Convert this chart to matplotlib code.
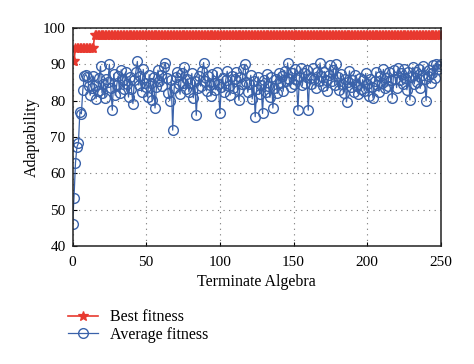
import numpy as np
import matplotlib
matplotlib.use("Agg")
import matplotlib.pyplot as plt

generations = np.arange(0, 251)

best_levels = [91.0, 94.5, 98.0]
best_counts = [2, 13, 236]
best_fitness = np.repeat(best_levels, best_counts)

average_fitness = [
    46.2, 53.2, 62.9, 67.3, 68.3, 77.0, 76.4, 83.0, 86.7, 87.2,
    86.5, 84.0, 81.5, 83.5, 86.8, 84.2, 80.6, 82.8, 86.2, 89.5,
    82.1, 84.5, 80.8, 86.0, 85.2, 90.0, 83.4, 77.4, 87.3, 81.5,
    84.3, 86.8, 82.0, 88.5, 85.6, 83.1, 87.9, 84.7, 81.0, 86.4,
    83.2, 79.2, 85.8, 88.0, 90.8, 84.3, 86.9, 82.5, 88.6, 85.0,
    83.7, 81.0, 87.2, 84.8, 80.2, 86.5, 78.0, 83.8, 88.4, 85.5,
    87.0, 84.1, 89.2, 90.5, 86.3, 82.0, 80.0, 85.8, 71.9, 83.5,
    86.4, 88.0, 84.5, 81.8, 87.6, 85.0, 89.3, 83.2, 86.0, 82.4,
    84.8, 87.5, 80.8, 85.3, 76.0, 83.6, 86.9, 84.0, 88.2, 90.5,
    85.4, 82.7, 86.8, 84.2, 81.3, 87.4, 85.0, 83.0, 88.0, 84.6,
    76.5, 83.9, 86.2, 82.5, 85.7, 88.1, 84.0, 81.6, 86.8, 83.4,
    85.9, 87.8, 82.9, 80.1, 86.4, 84.7, 88.6, 90.0, 85.2, 82.3,
    84.6, 87.0, 80.5, 85.5, 75.6, 83.2, 86.6, 81.8, 84.4, 76.5,
    85.7, 82.5, 87.3, 84.0, 80.9, 86.5, 78.0, 83.6, 85.9, 82.0,
    87.5, 84.8, 86.9, 82.6, 88.3, 85.4, 90.4, 86.0, 83.8, 87.7,
    84.5, 88.8, 85.9, 77.4, 86.4, 89.0, 84.2, 87.6, 85.0, 88.4,
    77.4, 86.2, 84.6, 88.9, 86.0, 83.5, 87.8, 85.3, 90.4, 86.8,
    84.0, 88.0, 85.7, 82.8, 87.2, 89.8, 85.5, 88.5, 84.3, 90.0,
    86.4, 83.0, 87.4, 84.6, 82.0, 86.0, 79.7, 85.2, 88.2, 83.8,
    85.6, 82.4, 87.0, 84.0, 81.8, 86.3, 83.2, 85.8, 82.7, 87.5,
    84.5, 81.2, 86.0, 83.7, 80.7, 85.4, 88.0, 84.2, 82.5, 86.7,
    85.0, 88.6, 83.5, 86.3, 84.0, 87.9, 85.6, 80.7, 88.4, 86.1,
    83.6, 89.0, 85.8, 87.5, 84.7, 88.8, 86.2, 83.0, 87.9, 80.2,
    86.5, 89.2, 84.6, 87.8, 85.2, 88.6, 83.4, 87.0, 89.5, 85.9,
    80.0, 86.8, 88.4, 84.8, 87.6, 89.8, 86.3, 90.1, 88.7, 89.6,
    90.0,
]

x_ticks = [0, 50, 100, 150, 200, 250]
y_ticks = [40, 50, 60, 70, 80, 90, 100]

plt.rcParams['font.family'] = ['Liberation Serif', 'DejaVu Serif']

fig = plt.figure(figsize=(4.74, 3.64), dpi=100)
ax = fig.add_axes([0.153, 0.324, 0.777, 0.599])

red = '#e8392f'
blue = '#3a62aa'

l1, = ax.plot(generations, best_fitness, color=red, marker='*', markersize=7,
              linewidth=1.2, markeredgewidth=0.9, label='Best fitness')
l2, = ax.plot(generations, average_fitness, color=blue, marker='o', markersize=7,
              markerfacecolor='none', markeredgewidth=1.0, linewidth=0.9,
              label='Average fitness')

ax.set_xlim(0, 250)
ax.set_ylim(40, 100)
ax.set_xticks(x_ticks)
ax.set_yticks(y_ticks)
ax.tick_params(direction='in', length=3, labelsize=11, top=False, right=False)
ax.tick_params(axis='x', pad=7)
ax.tick_params(axis='y', pad=5)
ax.grid(True, linestyle=(0, (1, 4)), color='#777777', linewidth=0.8)
for s in ax.spines.values():
    s.set_linewidth(1.1)
    s.set_color('#222222')

ax.set_xlabel('Terminate Algebra', fontsize=11.5, labelpad=4)
ax.set_ylabel('Adaptability', fontsize=11.5, labelpad=2)

fig.legend(handles=[l1, l2], loc='upper left', bbox_to_anchor=(0.13, 0.168),
           frameon=False, fontsize=11.5, handlelength=1.9, handletextpad=0.7,
           labelspacing=0.1, borderaxespad=0)

fig.savefig('out.png', dpi=100)
